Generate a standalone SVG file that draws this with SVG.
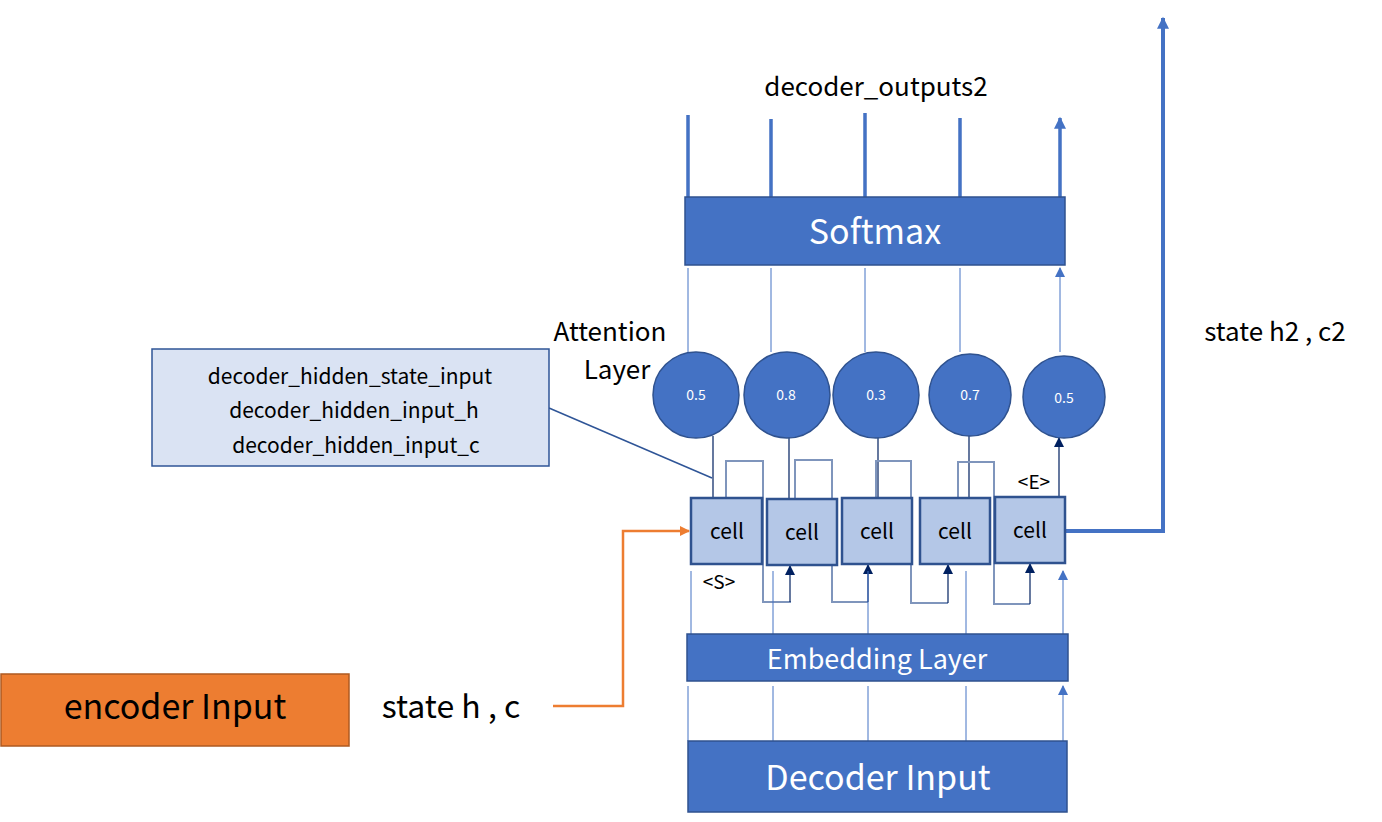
<svg xmlns="http://www.w3.org/2000/svg" width="1382" height="822" viewBox="0 0 1382 822">
<defs>
<marker id="ab" viewBox="0 0 10 10" refX="9" refY="5" markerWidth="10" markerHeight="10" markerUnits="userSpaceOnUse" orient="auto"><path d="M0,0L10,5L0,10z" fill="#4472C4"/></marker>
<marker id="abig" viewBox="0 0 10 10" refX="9" refY="5" markerWidth="14" markerHeight="12" markerUnits="userSpaceOnUse" orient="auto"><path d="M0,0L10,5L0,10z" fill="#4472C4"/></marker>
<marker id="ad" viewBox="0 0 10 10" refX="9" refY="5" markerWidth="10" markerHeight="10" markerUnits="userSpaceOnUse" orient="auto"><path d="M0,0L10,5L0,10z" fill="#002060"/></marker>
<marker id="ao" viewBox="0 0 10 10" refX="9" refY="5" markerWidth="10" markerHeight="10" markerUnits="userSpaceOnUse" orient="auto"><path d="M0,0L10,5L0,10z" fill="#ED7D31"/></marker>
</defs>
<style>
text{font-family:"Malgun Gothic","Noto Sans CJK KR","Noto Sans",sans-serif;}
.blk{fill:#4472C4;stroke:#2F528F;stroke-width:1.5}
.cell{fill:#B4C7E7;stroke:#2F528F;stroke-width:2.5}
.circ{fill:#4472C4;stroke:#2F528F;stroke-width:1.5}
.thin{stroke:#4472C4;stroke-width:1;fill:none;marker-end:url(#ab)}
.thick{stroke:#4472C4;stroke-width:3.5;fill:none;marker-end:url(#abig)}
.dk{stroke:#002060;stroke-width:1.2;fill:none;marker-end:url(#ad)}
.loop{stroke:#7F95BC;stroke-width:2;fill:none}
.w{fill:#fff}
</style>
<g id="connectors">
<path class="thick" d="M688,197V115M771,197V119M865,197V113M960,197V118M1060,197V118"/>
<path class="thin" d="M688,352V268M771,352V268M865,352V268M960,352V268M1060,352V268"/>
<path class="dk" d="M713,498V436M789,499V436M878,498V434M969,498V436M1059,497V438"/>
<path class="loop" d="M726,498V461H763V602H791"/>
<path class="dk" d="M790,602V566"/>
<path class="loop" d="M795,499V460H832V602H868"/>
<path class="dk" d="M868,602V565"/>
<path class="loop" d="M876,498V461H911V603H948"/>
<path class="dk" d="M948,603V565"/>
<path class="loop" d="M958,498V462H994V604H1030"/>
<path class="dk" d="M1030,604V564"/>
<path class="thin" d="M691,634V571M773,634V571M868,634V571M966,634V571M1063,634V571"/>
<path class="thin" d="M688,741V686M773,741V686M868,741V686M966,741V686M1063,741V686"/>
<path d="M1065,531H1163V18" stroke="#4472C4" stroke-width="4" fill="none" marker-end="url(#abig)"/>
<path d="M553,706H623V531H689" stroke="#ED7D31" stroke-width="2.5" fill="none" marker-end="url(#ao)"/>
<path d="M549,408L712,478" stroke="#2F5597" stroke-width="1.5"/>
</g>
<g id="softmax"><rect class="blk" x="685" y="197" width="380" height="68"/><text class="w" x="875" y="244" font-size="34" text-anchor="middle">Softmax</text></g>
<g id="title"><text x="876" y="96" font-size="26" text-anchor="middle">decoder_outputs2</text></g>
<g id="attn"><text x="610" y="341" font-size="26" text-anchor="middle">Attention</text><text x="617" y="379" font-size="26" text-anchor="middle">Layer</text></g>
<g id="c1"><circle class="circ" cx="696" cy="395" r="43"/><text class="w" x="696" y="400" font-size="14" text-anchor="middle">0.5</text></g>
<g id="c2"><circle class="circ" cx="787" cy="395" r="43"/><text class="w" x="786" y="400" font-size="14" text-anchor="middle">0.8</text></g>
<g id="c3"><circle class="circ" cx="876" cy="395" r="43"/><text class="w" x="876" y="400" font-size="14" text-anchor="middle">0.3</text></g>
<g id="c4"><circle class="circ" cx="970" cy="395" r="41"/><text class="w" x="970" y="400" font-size="14" text-anchor="middle">0.7</text></g>
<g id="c5"><circle class="circ" cx="1064" cy="397" r="41"/><text class="w" x="1064" y="403" font-size="14" text-anchor="middle">0.5</text></g>
<g id="callout"><rect x="152" y="349" width="397" height="117" fill="#DAE3F3" stroke="#2F5597" stroke-width="1.5"/>
<text x="350" y="384" font-size="21" text-anchor="middle">decoder_hidden_state_input</text>
<text x="354" y="418" font-size="21" text-anchor="middle">decoder_hidden_input_h</text>
<text x="356" y="453" font-size="21" text-anchor="middle">decoder_hidden_input_c</text></g>
<g id="cell1"><rect class="cell" x="691" y="498" width="71" height="66"/><text x="727" y="539" font-size="21" text-anchor="middle">cell</text></g>
<g id="cell2"><rect class="cell" x="767" y="499" width="70" height="66"/><text x="802" y="540" font-size="21" text-anchor="middle">cell</text></g>
<g id="cell3"><rect class="cell" x="842" y="498" width="70" height="66"/><text x="877" y="539" font-size="21" text-anchor="middle">cell</text></g>
<g id="cell4"><rect class="cell" x="920" y="498" width="70" height="66"/><text x="955" y="539" font-size="21" text-anchor="middle">cell</text></g>
<g id="cell5"><rect class="cell" x="995" y="497" width="70" height="66"/><text x="1030" y="538" font-size="21" text-anchor="middle">cell</text></g>
<text x="719" y="589" font-size="19" text-anchor="middle">&lt;S&gt;</text>
<text x="1034" y="489" font-size="19" text-anchor="middle">&lt;E&gt;</text>
<g id="state2"><text x="1275" y="341" font-size="26" text-anchor="middle">state h2 , c2</text></g>
<g id="embedding"><rect class="blk" x="687" y="634" width="381" height="47"/><text class="w" x="877" y="669" font-size="27" text-anchor="middle">Embedding Layer</text></g>
<g id="decoder"><rect class="blk" x="688" y="741" width="379" height="71"/><text class="w" x="878" y="790" font-size="34" text-anchor="middle">Decoder Input</text></g>
<g id="encoder"><rect x="1" y="674" width="348" height="72" fill="#ED7D31" stroke="#AE5A21" stroke-width="1.5"/><text x="175" y="719" font-size="34" text-anchor="middle">encoder Input</text></g>
<g id="state1"><text x="451" y="718" font-size="32" text-anchor="middle">state h , c</text></g>
</svg>
